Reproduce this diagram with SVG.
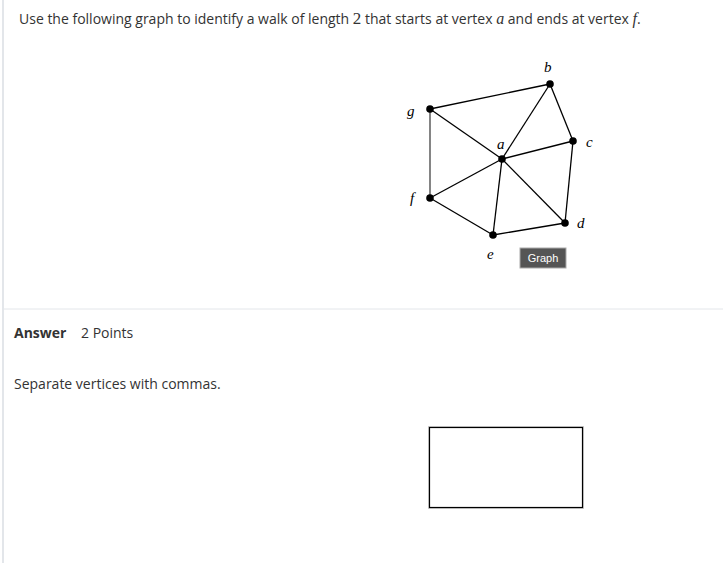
<svg xmlns="http://www.w3.org/2000/svg" width="723" height="563" viewBox="0 0 723 563">
<style>
.t{font-family:"Open Sans","Liberation Sans",sans-serif;font-size:14px;fill:#333}
.m{font-family:"Liberation Serif","DejaVu Serif",serif;font-style:italic;font-size:15px;fill:#000}
.e{stroke:#000;stroke-width:1.3;fill:none}
.v{fill:#000}
</style>
<rect width="723" height="563" fill="#fff"/>
<rect x="2" y="0" width="2" height="563" fill="#e3e6ea"/>
<line x1="4" y1="309" x2="723" y2="309" stroke="#e3e6ea" stroke-width="1"/>
<text class="t" x="19" y="24">Use the following graph to identify a walk of length <tspan font-family="Liberation Serif,serif" font-size="17">2</tspan> that starts at vertex <tspan font-family="Liberation Serif,serif" font-style="italic" font-size="16">a</tspan> and ends at vertex <tspan font-family="Liberation Serif,serif" font-style="italic" font-size="16">f</tspan>.</text>
<g id="connectors">
<line class="e" x1="430" y1="109" x2="550" y2="84"/>
<line class="e" x1="430" y1="109" x2="502" y2="159"/>
<line class="e" x1="550" y1="84" x2="502" y2="159"/>
<line class="e" x1="550" y1="84" x2="573" y2="141"/>
<line class="e" x1="573" y1="141" x2="502" y2="159"/>
<line class="e" x1="573" y1="141" x2="565" y2="223"/>
<line class="e" x1="502" y1="159" x2="430" y2="198"/>
<line class="e" x1="502" y1="159" x2="493" y2="235"/>
<line class="e" x1="502" y1="159" x2="565" y2="223"/>
<line x1="430" y1="109" x2="430" y2="198" stroke="#666" stroke-width="1.6"/>
<line class="e" x1="430" y1="198" x2="493" y2="235"/>
<line class="e" x1="493" y1="235" x2="565" y2="223"/>
</g>
<g id="node-a"><circle class="v" cx="502" cy="159" r="3.8"/><text class="m" x="497" y="149">a</text></g>
<g id="node-b"><circle class="v" cx="550" cy="84" r="3.8"/><text class="m" x="544" y="72">b</text></g>
<g id="node-c"><circle class="v" cx="573" cy="141" r="3.8"/><text class="m" x="586" y="147">c</text></g>
<g id="node-d"><circle class="v" cx="565" cy="223" r="3.8"/><text class="m" x="577" y="228">d</text></g>
<g id="node-e"><circle class="v" cx="493" cy="235" r="3.8"/><text class="m" x="487" y="259">e</text></g>
<g id="node-f"><circle class="v" cx="430" cy="198" r="3.8"/><text class="m" x="410" y="203">f</text></g>
<g id="node-g"><circle class="v" cx="430" cy="109" r="3.8"/><text class="m" x="407" y="116">g</text></g>
<g id="graph-button"><rect x="520" y="248" width="46" height="20" fill="#555" stroke="#aaa" stroke-width="1"/><text x="543" y="262" text-anchor="middle" font-family="Liberation Sans,Arial,sans-serif" font-size="11" fill="#fff">Graph</text></g>
<text class="t" x="14" y="338" font-weight="bold">Answer</text>
<text class="t" x="81" y="338" font-size="13">2 Points</text>
<text class="t" x="14" y="389">Separate vertices with commas.</text>
<rect x="428.5" y="426.5" width="155" height="82" fill="#fff" stroke="#ccc" stroke-width="1"/>
<rect x="429.5" y="427.5" width="153" height="80" fill="none" stroke="#000" stroke-width="1.2"/>
</svg>
